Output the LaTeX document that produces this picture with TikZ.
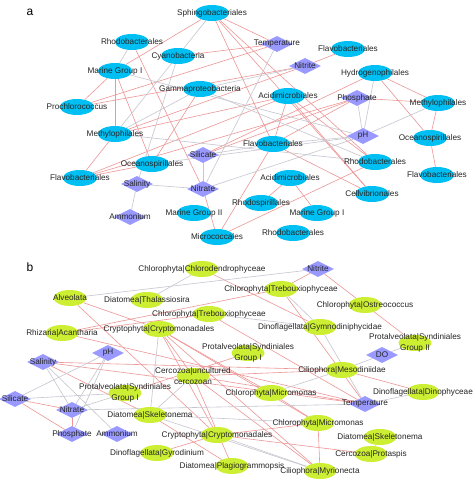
\documentclass[tikz,border=0pt]{standalone}
\usepackage{fontspec}
\setmainfont{Liberation Sans}
\usetikzlibrary{shapes.geometric}
\pgfdeclarelayer{bg}
\pgfdeclarelayer{edges}
\pgfsetlayers{bg,edges,main}
\definecolor{bactcol}{RGB}{0,191,243}
\definecolor{eukcol}{RGB}{204,238,51}
\definecolor{envcol}{RGB}{153,153,255}
\definecolor{poscol}{RGB}{238,150,150}
\definecolor{neucol}{RGB}{198,198,208}

\begin{document}
\begin{tikzpicture}[x=1pt,y=-1pt,
  lbl/.style={font=\fontsize{8.2}{10.5}\selectfont, text=black!85, align=center, inner sep=0pt},
  bact/.style={ellipse, fill=bactcol, minimum width=34pt, minimum height=16pt, inner sep=0pt, label={[lbl]center:#1}},
  euka/.style={ellipse, fill=eukcol, minimum width=33pt, minimum height=16pt, inner sep=0pt, label={[lbl]center:#1}},
  envf/.style={diamond, fill=envcol, minimum width=32pt, minimum height=16pt, inner sep=0pt, label={[lbl]center:#1}},
  posedge/.style={draw=poscol, line width=0.6pt},
  neuedge/.style={draw=neucol, line width=0.6pt},
  panel/.style={font=\fontsize{12}{14}\selectfont}]
  \useasboundingbox (0,0) rectangle (474,479);
  \begin{pgfonlayer}{bg}
    \fill[white] (0,0) rectangle (474,479);
  \end{pgfonlayer}

  % panel a
  \node[panel] (pa) at (30,12) {a};
  \node[bact=Sphingobacteriales] (sph) at (212,13) {};
  \node[bact=Rhodobacterales] (rhoA) at (132,42) {};
  \node[bact=Cyanobacteria] (cya) at (178,56) {};
  \node[bact=Marine Group I] (mgiA) at (115,71) {};
  \node[bact=Gammaproteobacteria] (gam) at (200,89) {};
  \node[bact=Prochlorococcus] (prc) at (77,107) {};
  \node[bact=Methylophilales] (metA) at (115,134) {};
  \node[bact=Oceanospirillales] (oceA) at (152,164) {};
  \node[bact=Flavobacteriales] (flaA) at (80,178) {};
  \node[envf=Salinity] (salA) at (137,184) {};
  \node[envf=Ammonium] (ammA) at (130,217) {};
  \node[envf=Silicate] (silA) at (203,155) {};
  \node[envf=Nitrate] (nraA) at (203,189) {};
  \node[bact=Marine Group II] (mgii) at (194,213) {};
  \node[bact=Micrococcales] (mcc) at (217,237) {};
  \node[envf=Temperature] (temA) at (277,44) {};
  \node[envf=Nitrite] (niiA) at (305,66) {};
  \node[bact=Flavobacteriales] (flaB) at (348,49) {};
  \node[bact=Hydrogenophilales] (hyd) at (375,73) {};
  \node[bact=Acidimicrobiales] (aciA) at (288,96) {};
  \node[envf=Phosphate] (phoA) at (357,98) {};
  \node[bact=Methylophilales] (metB) at (438,103) {};
  \node[envf=pH] (phA) at (363,136) {};
  \node[bact=Oceanospirillales] (oceB) at (430,138) {};
  \node[bact=Flavobacteriales] (flaC) at (273,144) {};
  \node[bact=Rhodobacterales] (rhoB) at (375,162) {};
  \node[bact=Flavobacteriales] (flaD) at (437,175) {};
  \node[bact=Acidimicrobiales] (aciB) at (290,178) {};
  \node[bact=Cellvibrionales] (cel) at (372,194) {};
  \node[bact=Rhodospirillales] (rsp) at (261,203) {};
  \node[bact=Marine Group I] (mgiB) at (317,213) {};
  \node[bact=Rhodobacterales] (rhoC) at (293,233) {};

  % panel b
  \node[panel] (pb) at (30,267) {b};
  \node[euka=Chlorophyta|Chlorodendrophyceae] (chd) at (202,269) {};
  \node[envf=Nitrite] (nib) at (318,269) {};
  \node[euka=Chlorophyta|Trebouxiophyceae] (trb1) at (281,289) {};
  \node[euka=Alveolata] (alv) at (70,298) {};
  \node[euka=Diatomea|Thalassiosira] (tha) at (147,300) {};
  \node[euka=Chlorophyta|Ostreococcus] (ost) at (365,305) {};
  \node[euka=Chlorophyta|Trebouxiophyceae] (trb2) at (209,314) {};
  \node[euka=Dinoflagellata|Gymnodiniphycidae] (gym) at (320,327) {};
  \node[euka=Rhizaria|Acantharia] (rhz) at (62,333) {};
  \node[euka=Cryptophyta|Cryptomonadales] (cry1) at (159,329) {};
  \node[euka={Protalveolata|Syndiniales\\Group II}] (syn2) at (415,343) {};
  \node[euka={Protalveolata|Syndiniales\\Group I}] (syn1) at (248,353) {};
  \node[envf=DO] (dob) at (382,355) {};
  \node[envf=pH] (phb) at (108,353) {};
  \node[envf=Salinity] (sab) at (43,362) {};
  \node[euka=Ciliophora|Mesodiniidae] (mes) at (342,370) {};
  \node[euka={Cercozoa|uncultured\\cercozoan}] (cer) at (193,376) {};
  \node[euka={Protalveolata|Syndiniales\\Group I}] (syn3) at (125,393) {};
  \node[euka=Chlorophyta|Micromonas] (mim1) at (271,393) {};
  \node[euka=Dinoflagellata|Dinophyceae] (dph) at (423,392) {};
  \node[envf=Silicate] (sib) at (15,399) {};
  \node[envf=Temperature] (teb) at (365,404) {};
  \node[envf=Nitrate] (ntb) at (72,410) {};
  \node[euka=Diatomea|Skeletonema] (ske1) at (150,415) {};
  \node[euka=Chlorophyta|Micromonas] (mim2) at (318,423) {};
  \node[envf=Phosphate] (phs) at (72,434) {};
  \node[envf=Ammonium] (amb) at (117,434) {};
  \node[euka=Cryptophyta|Cryptomonadales] (cry2) at (217,435) {};
  \node[euka=Diatomea|Skeletonema] (ske2) at (380,437) {};
  \node[euka=Dinoflagellata|Gyrodinium] (gyr) at (157,453) {};
  \node[euka=Cercozoa|Protaspis] (psp) at (371,454) {};
  \node[euka=Diatomea|Plagiogrammopsis] (pla) at (232,466) {};
  \node[euka=Ciliophora|Myrionecta] (myr) at (320,471) {};

  \begin{pgfonlayer}{edges}
    % co-occurrence (a)
    \foreach \u/\v in {sph/mgiA, sph/temA, sph/flaC, sph/rhoB, sph/cel, rhoA/nraA,
      mgiA/prc, mgiA/metA, mgiA/oceA, cya/temA, prc/temA, prc/niiA, niiA/flaB,
      niiA/metA, aciA/metA, aciA/flaA, phoA/flaA, metA/flaA, oceA/flaA, gam/oceA,
      hyd/metB, hyd/oceB, hyd/silA, phoA/metB, phoA/flaC, metB/oceB, oceB/flaD,
      aciA/flaC, aciA/rhoB, aciA/cel, flaC/mcc, flaC/cel, nraA/mcc, mcc/rhoB,
      aciB/rsp, aciB/mgiB, silA/phoA}
      \draw[posedge] (\u) -- (\v);
    \foreach \u/\v in {rhoA/mgiA, sph/metA, cya/salA, gam/niiA, gam/rhoB, mgiA/phA,
      temA/nraA, hyd/phA, phoA/phA, metB/phA, phA/nraA, silA/nraA, silA/flaC,
      salA/nraA, salA/ammA, metA/rhoB, oceA/phA, flaC/phA, metA/gam}
      \draw[neuedge] (\u) -- (\v);
    % co-occurrence (b)
    \foreach \u/\v in {chd/gym, nib/trb1, nib/ost, rhz/trb1, rhz/trb2, ost/syn2,
      alv/cry1, alv/cry2, rhz/teb, trb1/teb, trb2/teb, cry1/cer, cry1/mim2,
      cry1/myr, cry1/mim1, cry1/cry2, sab/mes, sab/teb, syn1/syn3, cer/mes,
      cer/teb, cer/myr, cer/pla, mes/dph, mim1/mim2, mim2/myr, mim2/cry2,
      cry2/psp, ske1/pla, gyr/cry2, sab/ske1, sib/ntb, sib/phs, ntb/phs}
      \draw[posedge] (\u) -- (\v);
    \foreach \u/\v in {chd/tha, nib/alv, trb1/gym, trb2/gym, cry1/ske1, cer/ske1,
      mes/dob, dob/syn2, mes/mim1, gym/teb, dph/teb, teb/ntb, ske2/psp, ske1/mim2,
      ske1/myr, cry2/myr, sab/ntb, sab/amb, phb/sib, phb/ntb, phb/phs, sib/syn3,
      ntb/syn3}
      \draw[neuedge] (\u) -- (\v);
  \end{pgfonlayer}
\end{tikzpicture}
\end{document}
